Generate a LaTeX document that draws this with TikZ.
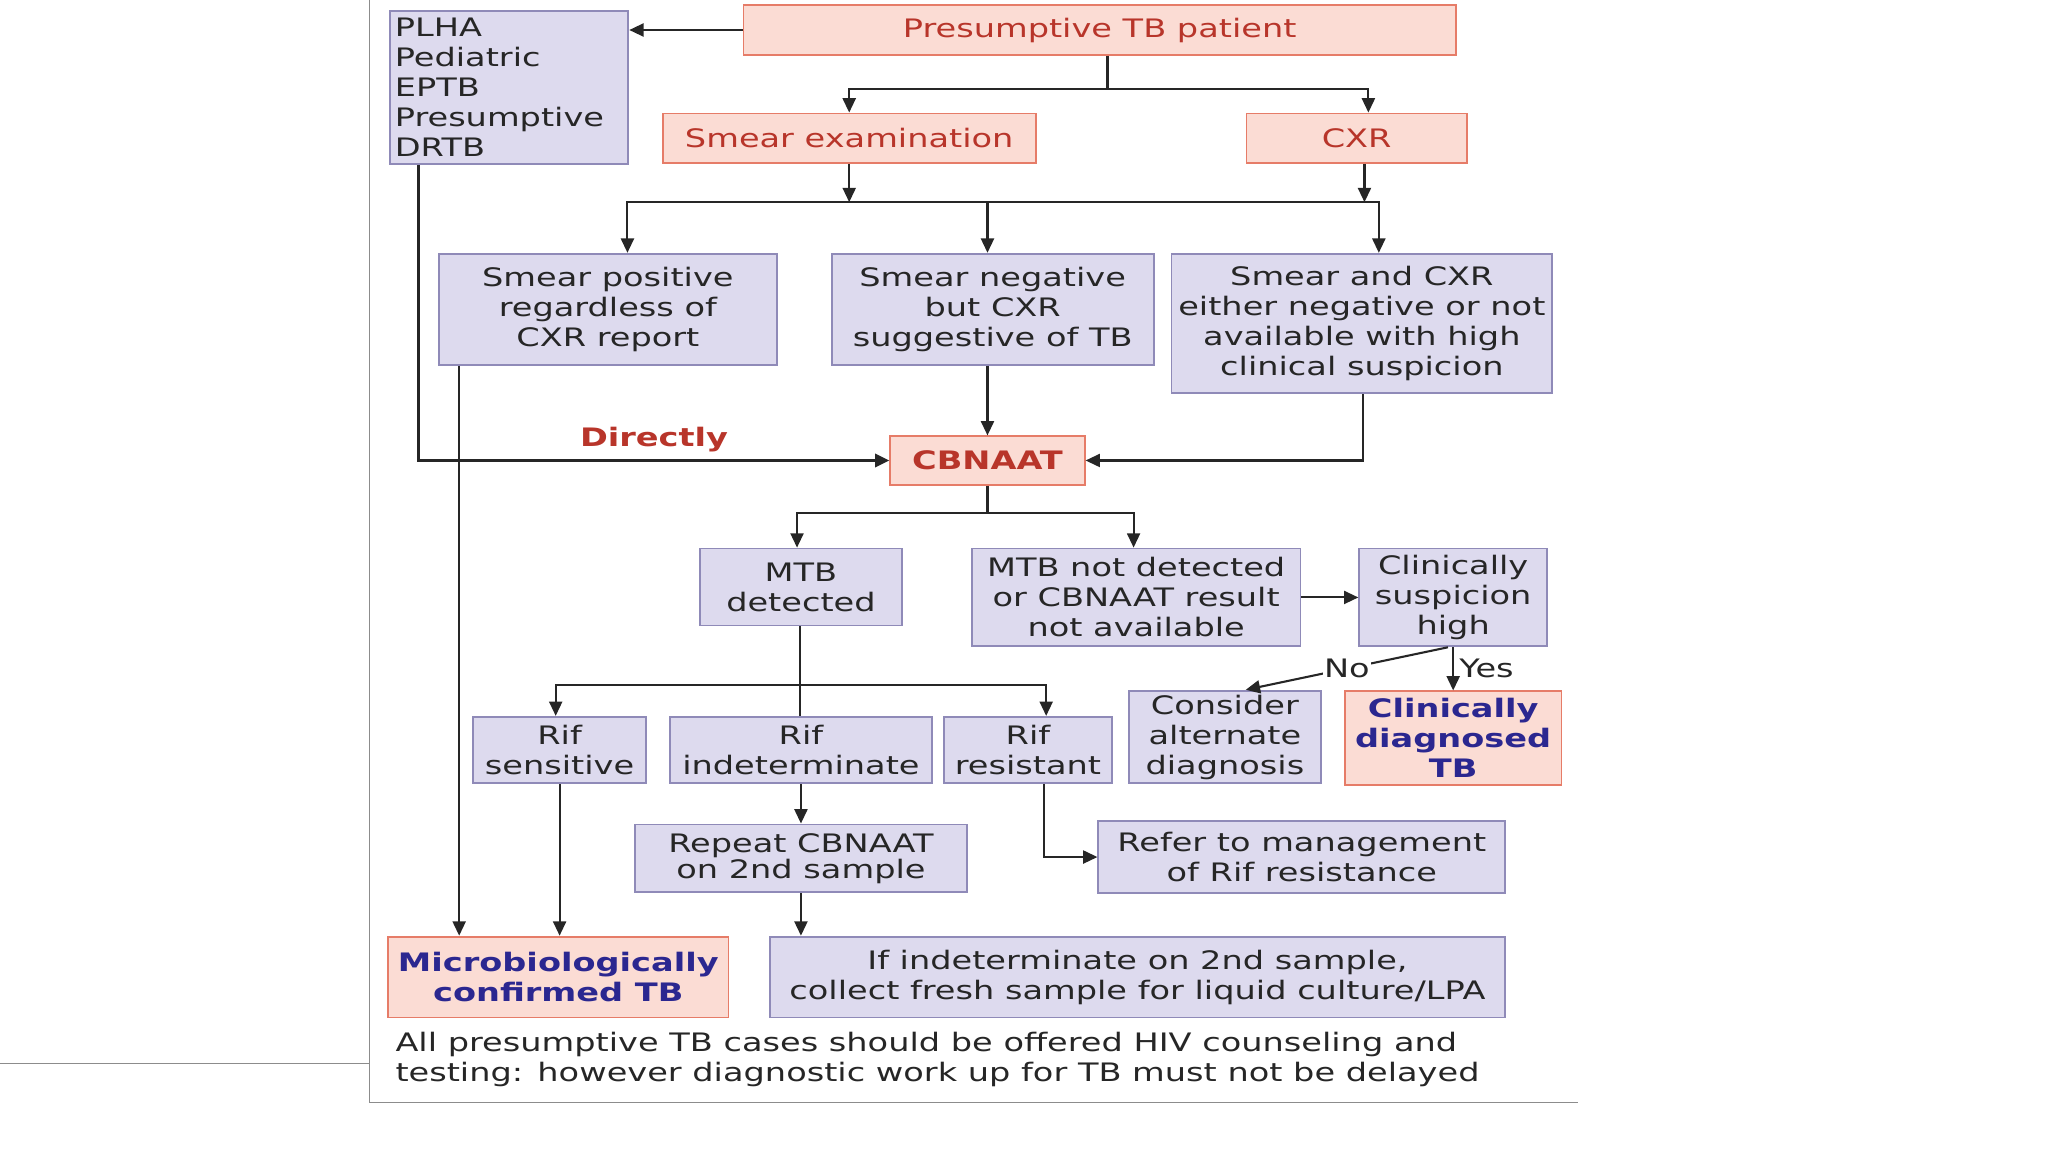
\documentclass[tikz,border=0pt]{standalone}
\usepackage{fontspec}
\setmainfont{DejaVu Sans}[FakeStretch=1.32]
\usetikzlibrary{arrows.meta,positioning}

\definecolor{pinkfill}{HTML}{FBDCD4}
\definecolor{pinkline}{HTML}{E67C68}
\definecolor{lavfill}{HTML}{DDDAEE}
\definecolor{lavline}{HTML}{8F8AB8}
\definecolor{redtext}{HTML}{B8352A}
\definecolor{bluetext}{HTML}{2B2790}

\begin{document}
\begin{tikzpicture}[
  x=1pt, y=-1pt,
  every node/.style={font=\fontsize{19.5}{23}\selectfont, text=black!85},
  pbox/.style={rectangle, draw=pinkline, fill=pinkfill, line width=1.4pt, align=center, inner sep=0pt, text=redtext},
  lbox/.style={rectangle, draw=lavline, fill=lavfill, line width=1.4pt, align=center, inner sep=0pt},
  arrow/.style={-{Triangle[length=11pt,width=10pt]}, line width=1.6pt, black!85},
  line/.style={line width=1.6pt, black!85}
]
\useasboundingbox (0,0) rectangle (1570,883);

% frame lines
\draw[black!45, line width=0.8pt] (283,0) -- (283,845) -- (1210,845);
\draw[black!45, line width=0.8pt] (0,815) -- (283,815);

% boxes
\node[lbox, minimum width=183pt, minimum height=117pt, align=left, anchor=north west, text width=175pt] (plha) at (298,8) {PLHA\\Pediatric\\EPTB\\Presumptive\\DRTB};
\node[pbox, minimum width=546pt, minimum height=38pt] (patient) at (843,23) {Presumptive TB patient};
\node[pbox, minimum width=286pt, minimum height=38pt] (smear) at (651,106) {Smear examination};
\node[pbox, minimum width=169pt, minimum height=38pt] (cxr) at (1040,106) {CXR};
\node[lbox, minimum width=259pt, minimum height=85pt] (spos) at (466,237) {Smear positive\\regardless of\\CXR report};
\node[lbox, minimum width=247pt, minimum height=85pt] (sneg) at (761,237) {Smear negative\\but CXR\\suggestive of TB};
\node[lbox, minimum width=292pt, minimum height=107pt] (sand) at (1044,248) {Smear and CXR\\either negative or not\\available with high\\clinical suspicion};
\node[pbox, minimum width=149pt, minimum height=37pt, font=\fontsize{19.5}{23}\selectfont\bfseries] (cbnaat) at (757,353) {CBNAAT};
\node[lbox, minimum width=155pt, minimum height=59pt] (mtbd) at (614,450) {MTB\\detected};
\node[lbox, minimum width=252pt, minimum height=75pt] (mtbn) at (871,458) {MTB not detected\\or CBNAAT result\\not available};
\node[lbox, minimum width=144pt, minimum height=75pt] (clin) at (1114,458) {Clinically\\suspicion\\high};
\node[lbox, minimum width=133pt, minimum height=51pt] (rifs) at (429,575) {Rif\\sensitive};
\node[lbox, minimum width=201pt, minimum height=51pt] (rifi) at (614,575) {Rif\\indeterminate};
\node[lbox, minimum width=129pt, minimum height=51pt] (rifr) at (788,575) {Rif\\resistant};
\node[lbox, minimum width=147pt, minimum height=71pt] (consider) at (939,565) {Consider\\alternate\\diagnosis};
\node[pbox, minimum width=166pt, minimum height=72pt, text=bluetext, font=\fontsize{19.5}{23}\selectfont\bfseries] (cdtb) at (1114,566) {Clinically\\diagnosed\\TB};
\node[lbox, minimum width=255pt, minimum height=52pt, font=\fontsize{19.5}{20}\selectfont] (repeat) at (614,658) {Repeat CBNAAT\\on 2nd sample};
\node[lbox, minimum width=312pt, minimum height=55pt] (refer) at (998,657) {Refer to management\\of Rif resistance};
\node[pbox, minimum width=261pt, minimum height=62pt, text=bluetext, font=\fontsize{19.5}{23}\selectfont\bfseries] (micro) at (428,749) {Microbiologically\\confirmed TB};
\node[lbox, minimum width=564pt, minimum height=62pt] (ifind) at (872,749) {If indeterminate on 2nd sample,\\collect fresh sample for liquid culture/LPA};
\node[align=left, anchor=north west, inner sep=0pt] (note) at (303,791) {All presumptive TB cases should be offered HIV counseling and\\testing: however diagnostic work up for TB must not be delayed};

% connectors
\coordinate (c1) at (849,68);
\draw[arrow] (patient.west) -- (plha.east |- patient.west);
\draw[line] (patient.south -| c1) -- (c1);
\draw[arrow] (c1) -| (smear.north);
\draw[arrow] (c1) -| (cxr.north -| 1049,0);

\coordinate (c2) at (757,155);
\draw[arrow] (smear.south) -- (smear.south |- c2);
\draw[arrow] (cxr.south -| 1046,0) -- (1046,155);
\draw[arrow] (c2) -| (spos.north -| 481,0);
\draw[arrow] (c2) -| (sand.north -| 1057,0);
\draw[arrow] (c2) -- (sneg.north -| c2);

\draw[arrow] (sneg.south -| cbnaat) -- (cbnaat.north);
\draw[arrow] (sand.south -| 1045,0) |- (cbnaat.east);
\draw[arrow, line width=2.6pt] (plha.south -| 321,0) |- (cbnaat.west) node[pos=0.75, above=2pt, text=redtext, font=\fontsize{19.5}{23}\selectfont\bfseries] {Directly};
\draw[arrow] (spos.south -| 352,0) -- (micro.north -| 352,0);

\coordinate (c3) at (757,393);
\draw[line] (cbnaat.south) -- (c3);
\draw[arrow] (c3) -| (mtbd.north -| 611,0);
\draw[arrow] (c3) -| (mtbn.north -| 869,0);
\draw[arrow] (mtbn.east) -- (clin.west);
\draw[arrow] (clin.south) -- (cdtb.north) node[pos=0.5, right=4pt, inner sep=0pt] {Yes};
\draw[arrow] (clin.south -| 1110,0) -- (consider.north -| 955,0) node[pos=0.5, fill=white, inner sep=1pt] {No};

\coordinate (c4) at (613,525);
\draw[line] (mtbd.south -| c4) -- (rifi.north -| c4);
\draw[arrow] (c4) -| (rifs.north -| 426,0);
\draw[arrow] (c4) -| (rifr.north -| 802,0);
\draw[arrow] (rifs.south) -- (micro.north -| rifs);
\draw[arrow] (rifi.south) -- (repeat.north -| rifi);
\draw[arrow] (rifr.south -| 800,0) |- (refer.west);
\draw[arrow] (repeat.south) -- (ifind.north -| repeat);
\end{tikzpicture}
\end{document}
